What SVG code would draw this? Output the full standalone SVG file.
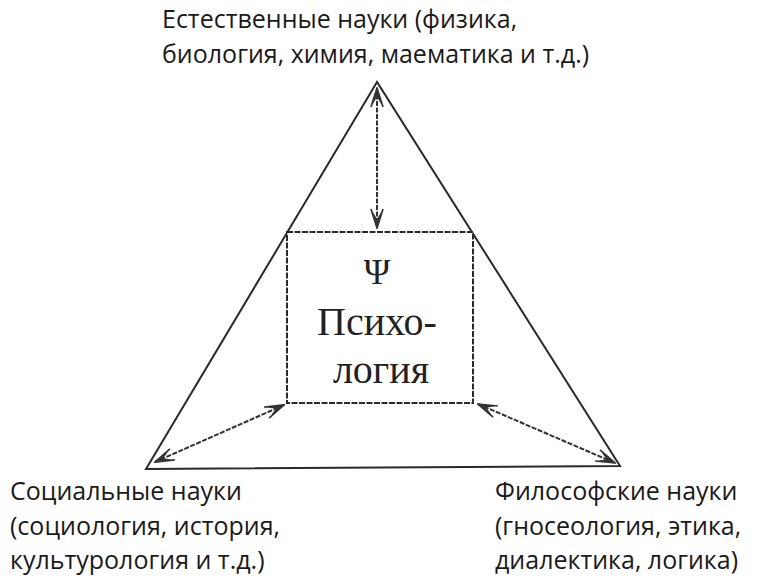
<svg xmlns="http://www.w3.org/2000/svg" width="760" height="580" viewBox="0 0 760 580">
<style>
.lbl{font-family:"Open Sans","Noto Sans","Liberation Sans",sans-serif;font-size:25px;fill:#1a1a1a}
.psy{font-family:"Liberation Serif","DejaVu Serif",serif;fill:#222}
.edge{fill:none;stroke:#2a2a2a;stroke-width:2}
.conn{fill:none;stroke:#333;stroke-width:2;stroke-dasharray:5 1.5}
</style>
<defs>
<marker id="arr" viewBox="0 0 22 14" refX="21" refY="7" markerWidth="22" markerHeight="14" markerUnits="userSpaceOnUse" orient="auto-start-reverse">
<path d="M2 1 L21 7 L2 13 M6 2.5 L14 7 L6 11.5 M10 4 L17 7 L10 10" fill="none" stroke="#333" stroke-width="1.7"/>
</marker>
</defs>
<rect width="760" height="580" fill="#ffffff"/>
<g id="triangle">
<polygon class="edge" points="377,82 146,469 620,466"/>
</g>
<g id="psychology">
<rect x="287" y="232" width="186" height="171" fill="#fff" stroke="#2a2a2a" stroke-width="2" stroke-dasharray="6 1.5"/>
<text class="psy" x="377" y="284" font-size="36" text-anchor="middle">Ψ</text>
<text class="psy" x="377" y="335" font-size="40" text-anchor="middle">Психо-</text>
<text class="psy" x="381" y="383" font-size="40" text-anchor="middle">логия</text>
</g>
<g id="natural-sciences">
<text class="lbl" x="162" y="28">Естественные науки (физика,</text>
<text class="lbl" x="162" y="63">биология, химия, маематика и т.д.)</text>
</g>
<g id="social-sciences">
<text class="lbl" x="10" y="500">Социальные науки</text>
<text class="lbl" x="10" y="535">(социология, история,</text>
<text class="lbl" x="10" y="569">культурология и т.д.)</text>
</g>
<g id="philosophical-sciences">
<text class="lbl" x="495" y="500">Философские науки</text>
<text class="lbl" x="495" y="535">(гносеология, этика,</text>
<text class="lbl" x="495" y="569">диалектика, логика)</text>
</g>
<g id="connectors">
<line class="conn" x1="377" y1="88" x2="377" y2="228" marker-start="url(#arr)" marker-end="url(#arr)"/>
<line class="conn" x1="284" y1="405" x2="155" y2="462" marker-start="url(#arr)" marker-end="url(#arr)"/>
<line class="conn" x1="478" y1="404" x2="615" y2="463" marker-start="url(#arr)" marker-end="url(#arr)"/>
</g>
</svg>
